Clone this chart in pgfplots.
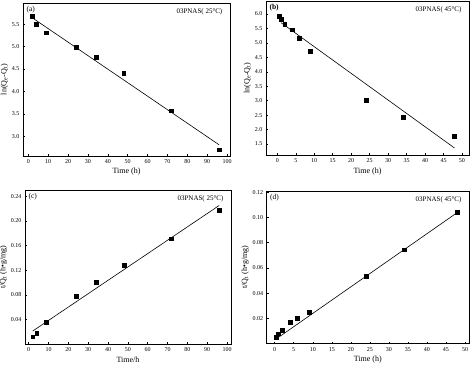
\documentclass[border=0pt]{standalone}
\usepackage{pgfplots}
\pgfplotsset{compat=1.18}
\usepackage{fontspec}
\setmainfont{Liberation Serif}
\pgfplotsset{
  every axis/.style={
    scale only axis,
    anchor=south west,
    axis line style={line width=0.6pt},
    tick align=inside,
    xtick pos=bottom, ytick pos=left,
    major tick length=2pt,
    tick style={line width=0.5pt,black},
    tick label style={font=\fontsize{6}{7}\selectfont},
    label style={font=\fontsize{8}{9}\selectfont},
    /pgf/number format/assume math mode=true,
    xticklabel style={/pgf/number format/fixed},
    yticklabel style={/pgf/number format/fixed,/pgf/number format/zerofill},
    xlabel style={yshift=2pt},
    ylabel style={yshift=-3pt},
  },
  pts/.style={only marks, mark=square*, mark size=1.9pt, black},
  fit/.style={no marks, black, line width=0.6pt},
}
\begin{document}
\begin{tikzpicture}
\path[use as bounding box] (0pt,0pt) rectangle (474pt,365pt);
% (a)
\begin{axis}[at={(23pt,209pt)}, width=207pt, height=153pt,
  xmin=-2.67, xmax=101.5, ymin=2.56, ymax=5.97,
  xtick={0,10,...,100}, ytick={3.0,3.5,...,5.5},
  yticklabel style={/pgf/number format/precision=1},
  xlabel={Time (h)}, ylabel={ln(Q\textsubscript{e}-Q\textsubscript{t})}]
\addplot[pts] coordinates {(2,5.68)(4,5.49)(9,5.31)(24,4.99)(34,4.76)(48,4.40)(72,3.57)(96,2.70)};
\addplot[fit] coordinates {(2,5.64)(96,2.81)};
\node[anchor=north west,font=\fontsize{7.5}{8}\selectfont] at (rel axis cs:0,1) {(a)};
\node[anchor=north east,font=\fontsize{7}{8}\selectfont] at (rel axis cs:0.98,0.985) {03PNAS( 25°C)};
\end{axis}
% (b)
\begin{axis}[at={(266pt,210pt)}, width=203pt, height=154pt,
  xmin=-3.06, xmax=51.9, ymin=1.12, ymax=6.45,
  xtick={0,5,...,50}, ytick={1.5,2.0,...,6.0},
  yticklabel style={/pgf/number format/precision=1},
  xlabel={Time (h)}, ylabel={ln(Q\textsubscript{e}-Q\textsubscript{t})}]
\addplot[pts] coordinates {(0.5,5.92)(1,5.83)(2,5.64)(4,5.46)(6,5.17)(9,4.71)(24,3.01)(34,2.43)(48,1.78)};
\addplot[fit] coordinates {(1,5.70)(48,1.36)};
\node[anchor=north west,font=\fontsize{7.5}{8}\selectfont\bfseries] at (rel axis cs:0,1) {(b)};
\node[anchor=north east,font=\fontsize{7}{8}\selectfont] at (rel axis cs:0.98,0.985) {03PNAS( 45°C)};
\end{axis}
% (c)
\begin{axis}[at={(25pt,21pt)}, width=206pt, height=154pt,
  xmin=-1.87, xmax=102, ymin=0, ymax=0.2502,
  xtick={0,10,...,100}, ytick={0.04,0.08,...,0.24},
  yticklabel style={/pgf/number format/precision=2},
  xlabel={Time/h}, ylabel={t/Q\textsubscript{t} (h•g/mg)}]
\addplot[pts] coordinates {(2,0.012)(4,0.018)(9,0.035)(24,0.078)(34,0.100)(48,0.128)(72,0.171)(96,0.218)};
\addplot[fit] coordinates {(2,0.021)(96,0.225)};
\node[anchor=north west,font=\fontsize{7.5}{8}\selectfont] at (rel axis cs:0,1) {(c)};
\node[anchor=north east,font=\fontsize{7}{8}\selectfont] at (rel axis cs:0.98,0.985) {03PNAS( 25°C)};
\end{axis}
% (d)
\begin{axis}[at={(266.7pt,21.3pt)}, width=202.3pt, height=152.7pt,
  xmin=-2.1, xmax=51.05, ymin=0, ymax=0.121,
  xtick={0,5,...,50}, ytick={0.02,0.04,...,0.12},
  yticklabel style={/pgf/number format/precision=2},
  xlabel={Time (h)}, ylabel={t/Q\textsubscript{t} (h•g/mg)}]
\addplot[pts] coordinates {(0.5,0.005)(1,0.008)(2,0.011)(4,0.017)(6,0.0205)(9,0.025)(24,0.0535)(34,0.0745)(48,0.104)};
\addplot[fit] coordinates {(0.5,0.004)(48,0.104)};
\node[anchor=north west,font=\fontsize{7.5}{8}\selectfont] at (rel axis cs:0,1) {(d)};
\node[anchor=north east,font=\fontsize{7}{8}\selectfont] at (rel axis cs:0.98,0.985) {03PNAS( 45°C)};
\end{axis}
\end{tikzpicture}
\end{document}
